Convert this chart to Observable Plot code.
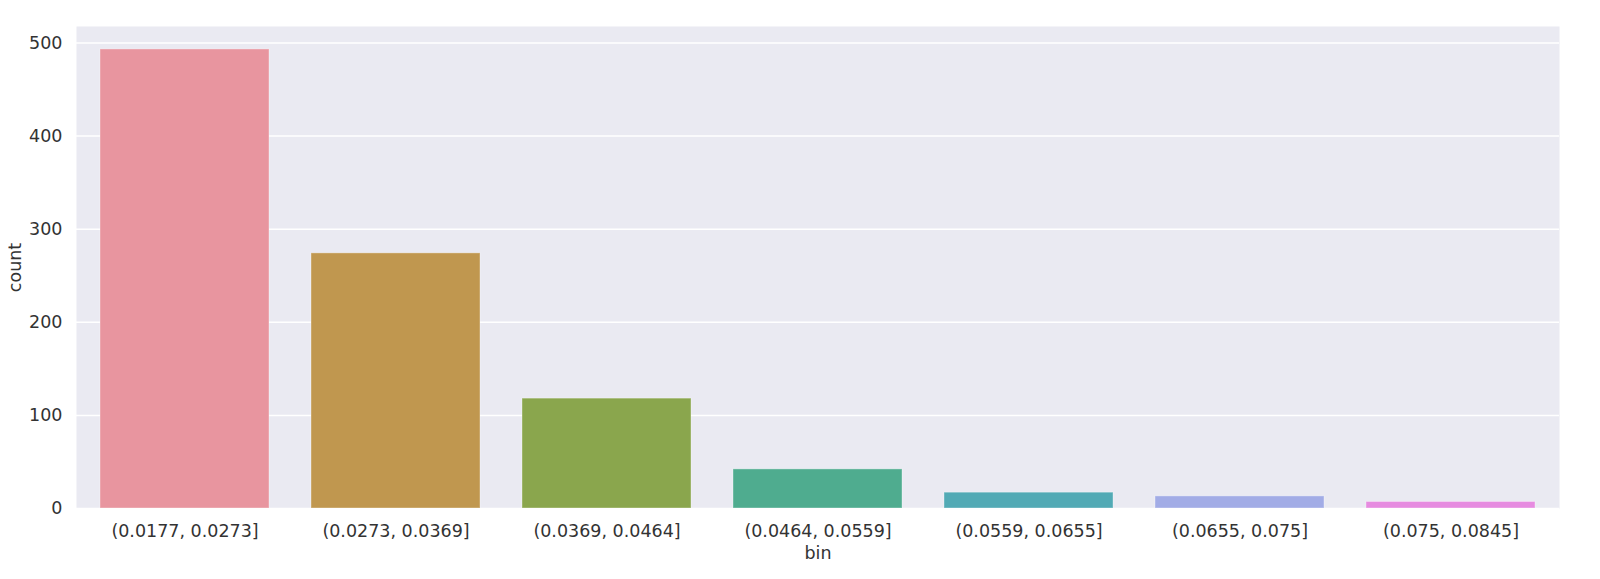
<!DOCTYPE html>
<html>
<head>
<meta charset="utf-8">
<script src="https://cdn.jsdelivr.net/npm/d3@7"></script>
<script src="https://cdn.jsdelivr.net/npm/@observablehq/plot@0.6"></script>
<style>
  html, body { margin: 0; padding: 0; background: #fff; }
  svg { display: block; }
</style>
</head>
<body>
<div id="chart"></div>
<script>
const bins = ["(0.0177, 0.0273]", "(0.0273, 0.0369]", "(0.0369, 0.0464]", "(0.0464, 0.0559]", "(0.0559, 0.0655]", "(0.0655, 0.075]", "(0.075, 0.0845]"];
const counts = [493, 274, 118, 42, 17, 13, 7];
const colors = ["#e8959f", "#c0974f", "#8aa64d", "#4fac8f", "#52aab5", "#a2ace6", "#e68be0"];
const yTicks = [0, 100, 200, 300, 400, 500];

const data = bins.map((b, i) => ({bin: b, count: counts[i]}));

const chart = Plot.plot({
  width: 1600,
  height: 579,
  marginLeft: 76,
  marginRight: 41,
  marginTop: 26,
  marginBottom: 71,
  style: {fontFamily: "DejaVu Sans", fontSize: "17.5px", color: "#333", background: "#fff"},
  x: {domain: bins, paddingInner: 0.2, paddingOuter: 0.1, label: null},
  y: {domain: [0, 517.65], label: null},
  color: {domain: bins, range: colors},
  marks: [
    Plot.frame({fill: "#eaeaf2", stroke: null}),
    Plot.gridY(yTicks, {stroke: "#fff", strokeOpacity: 1, strokeWidth: 1.5}),
    Plot.barY(data, {x: "bin", y: "count", fill: "bin", stroke: "#fff", strokeOpacity: 0.35, strokeWidth: 1}),
    Plot.axisY(yTicks, {tickSize: 0, tickPadding: 14, fontSize: 17.5, label: "count", labelAnchor: "center", labelArrow: "none", labelOffset: 68}),
    Plot.axisX({tickSize: 0, tickPadding: 16, fontSize: 17.5, label: "bin", labelAnchor: "center", labelArrow: "none", labelOffset: 50})
  ]
});
document.getElementById("chart").appendChild(chart);
</script>
</body>
</html>
